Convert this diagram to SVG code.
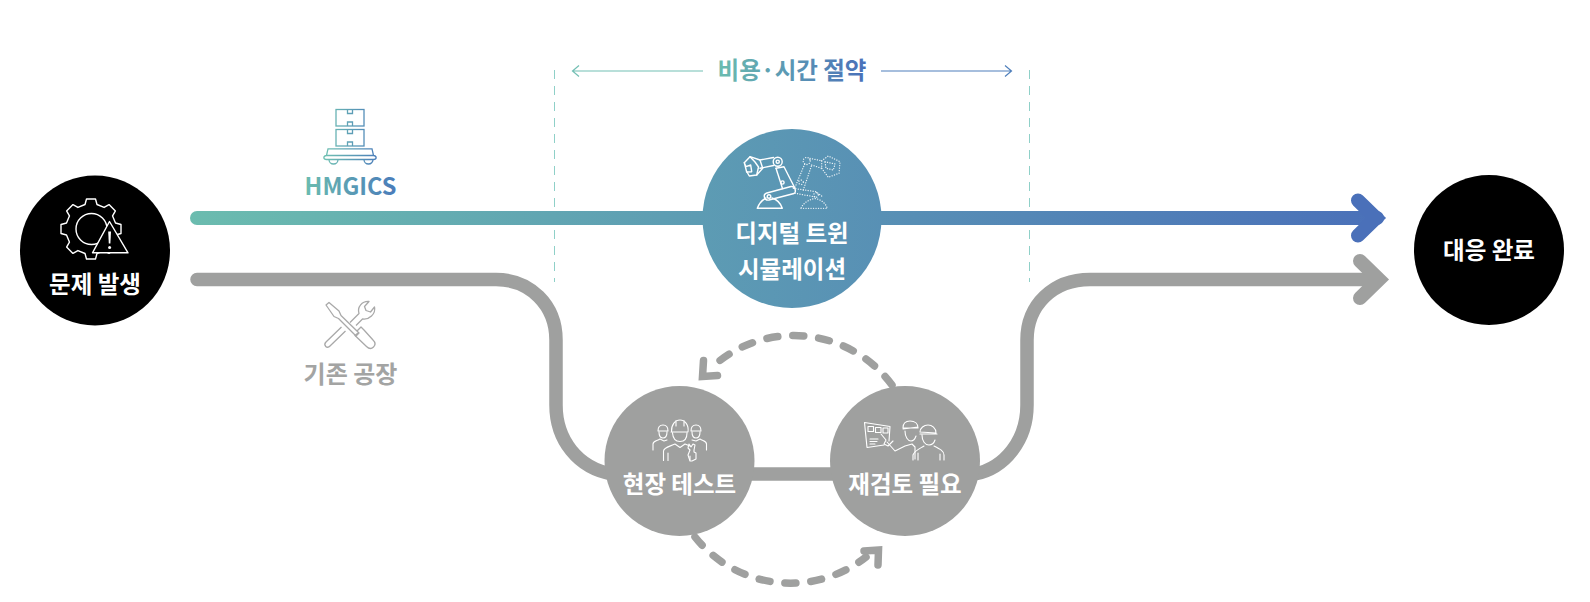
<svg xmlns="http://www.w3.org/2000/svg" width="1590" height="602" viewBox="0 0 1590 602">
<style>
text{font-family:"Noto Sans CJK KR","Noto Sans",sans-serif;font-weight:700;text-anchor:middle}
.w{fill:#fff;font-size:23.500px}
.ic{fill:none;stroke:#fff;stroke-width:1.400;stroke-linejoin:round;stroke-linecap:round}
.dot{fill:none;stroke:#fff;stroke-width:1.300;stroke-dasharray:.1 2.400;stroke-linecap:round;stroke-linejoin:round;opacity:.9}
.g{fill:none;stroke:#9fa09f;stroke-width:13.500}
.d{fill:none;stroke:#9fa09f;stroke-width:7.500;stroke-linecap:round}
.vd{fill:none;stroke-width:1;stroke-dasharray:9 7}
</style>
<defs>
<linearGradient id="flow" gradientUnits="userSpaceOnUse" x1="190" y1="0" x2="1387" y2="0"><stop offset="0" stop-color="#6bbcaf"/><stop offset="1" stop-color="#4a70b9"/></linearGradient>
<linearGradient id="span" gradientUnits="userSpaceOnUse" x1="718" y1="0" x2="866" y2="0"><stop offset="0" stop-color="#6bbcaf"/><stop offset="1" stop-color="#4a70b9"/></linearGradient>
<linearGradient id="hm" gradientUnits="userSpaceOnUse" x1="305" y1="0" x2="396" y2="0"><stop offset="0" stop-color="#6bbcaf"/><stop offset="1" stop-color="#4a7cba"/></linearGradient>
<linearGradient id="hmi" gradientUnits="userSpaceOnUse" x1="325" y1="0" x2="378" y2="0"><stop offset="0" stop-color="#6fc0b2"/><stop offset="1" stop-color="#4a7cba"/></linearGradient>
</defs>

<g id="connectors">
<path class="vd" stroke="#8fd0c8" d="M554.500,70V282"/>
<path class="vd" stroke="#8fd0c8" d="M1029.500,70V282"/>
<path d="M197,218H1377" fill="none" stroke="url(#flow)" stroke-width="14" stroke-linecap="round"/>
<path d="M1358,200.500L1376,218L1358,235.500" fill="none" stroke="#4a70b9" stroke-width="14" stroke-linecap="round" stroke-miterlimit="10"/>
<path class="g" stroke-linecap="round" d="M197,279.500H496C530,279.500 556,305 556,340V405C556,440 578,468 612,474"/>
<path class="g" d="M750,474H835"/>
<path class="g" stroke-linecap="round" d="M975,474C1005,468 1027,440 1027,405V340C1027,305 1053,279.500 1090,279.500H1378"/>
<path d="M1360,261L1379,279.500L1360,298" fill="none" stroke="#9fa09f" stroke-width="14" stroke-linecap="round" stroke-miterlimit="10"/>
<path class="d" stroke-dasharray="11 15" d="M892,385A122,122 0 0 0 718,362"/>
<path class="d" stroke-miterlimit="10" d="M703.500,360.500L702.500,376.500L717.500,375.500"/>
<path class="d" stroke-dasharray="11 15" d="M695,537A122,122 0 0 0 866,557"/>
<path class="d" stroke-miterlimit="10" d="M864,551L878.500,550L878,565"/>
<path d="M703,71H573M579,65.500L572.500,71L579,76.500" fill="none" stroke="#73bfb4" stroke-width="1.200"/>
<path d="M881,71H1011M1005,65.500L1011.500,71L1005,76.500" fill="none" stroke="#4f7fbb" stroke-width="1.200"/>
</g>

<g id="span-label"><text x="792" y="79" font-size="23.500" fill="url(#span)">비용·시간 절약</text></g>

<g id="node-problem">
<circle cx="95" cy="250.500" r="75" fill="#000"/>
<polygon class="ic" transform="translate(91,229)" points="24.500,-6 30,-4.500 30,4.500 24.500,6 21.570,13.080 24.400,18.030 18.030,24.400 13.080,21.570 6,24.500 4.500,30 -4.500,30 -6,24.500 -13.080,21.570 -18.030,24.400 -24.400,18.030 -21.570,13.080 -24.500,6 -30,4.500 -30,-4.500 -24.500,-6 -21.570,-13.080 -24.400,-18.030 -18.030,-24.400 -13.080,-21.570 -6,-24.500 -4.500,-30 4.500,-30 6,-24.500 13.080,-21.570 18.030,-24.400 24.400,-18.030 21.570,-13.080"/>
<circle class="ic" cx="91.500" cy="229" r="15.500"/>
<path class="ic" style="fill:#000" d="M109.500,221.500L128,252.800H92.500Z"/>
<path d="M108.200,231.500h2.800l-.6,12h-1.600z" fill="#fff"/><circle cx="109.600" cy="247.500" r="1.500" fill="#fff"/>
<text class="w" x="95" y="293">문제 발생</text>
</g>

<g id="label-hmgics">
<g fill="none" stroke="url(#hmi)" stroke-width="1.300">
<rect x="336" y="109.500" width="28" height="16.500"/><rect x="336" y="129.500" width="28" height="16.500"/>
<path d="M347.500,109.500v4h5v-4M347.500,126v-4h5v4M347.500,129.500v4h5v-4M347.500,146v-4h5v4"/>
<path d="M328,148.800H372L373.500,155.500C377,156 377,159.500 373.500,159.500H326.500C323,159.500 323,156 326.500,155.500ZM352,155.500H367M327,155.500H373"/>
<path d="M329,159.500a4.500,4.500 0 0 0 9,0M364,159.500a4.500,4.500 0 0 0 9,0"/>
</g>
<text x="350.500" y="195" font-size="23.500" fill="url(#hm)">HMGICS</text>
</g>

<g id="label-existing">
<g fill="none" stroke="#a9a9a9" stroke-width="1.300" stroke-linejoin="round">
<path d="M326,305L329,302.500L339,311L341,315.500L359,333L356,336L338.500,318.500L334,316.500Z"/>
<path d="M357,331L361,327L364,330L373,340C375.500,342.500 375.500,345 373.500,347C371.500,349 369,349 366.500,346.500L355,335.500L358,333"/>
<path d="M350,322.500L359,313.500C357,307 362,301 369,301.500L364.500,306.500L366,310.500L370.500,312L374.500,307C376,314 369,320 362.500,319L356,325.500"/>
<path d="M345.500,331L330,346C327,349.500 323,345 326,342L341.500,327"/>
</g>
<text x="350.500" y="383" font-size="24" fill="#a3a4a3">기존 공장</text>
</g>

<g id="node-twin">
<circle cx="792" cy="218.500" r="89.500" fill="url(#flow)"/>
<path class="ic" d="M757.300,208.300H782.300C780.500,203 777,199.500 772,198M757.300,208.300C759,204 762,200 766,198"/>
<path class="ic" d="M766,193.300L791,186.500C795.500,186 796.500,192 794,193.500L769,200C764,201 763,194.500 766,193.300Z"/>
<circle class="ic" cx="769" cy="196.500" r="1.800"/><circle class="ic" cx="782.500" cy="182.500" r="1.600"/>
<path class="ic" d="M776,168.300L784,166.700L794.300,187M782,189"/>
<path class="ic" d="M776,168.300L782.500,188.500"/>
<path class="ic" d="M760,160L773.500,157.500M760,168.300L773.500,165.500"/>
<circle class="ic" cx="777.700" cy="161.700" r="4.500"/><circle class="ic" cx="777.700" cy="161.700" r="1.600"/>
<path class="ic" d="M744.300,162.700L750,156.700L760,160L762.700,168.300L756.700,175L749.300,176L747,172"/>
<path class="ic" d="M750,156.700L755,162L758.500,167L756.700,175M744.300,162.700L746,166.700L750.700,165L751.700,171.700L746.700,172Z"/>
<path class="dot" d="M801,208.300H827.300C825.500,203 821,199.500 815,198.500C809,199.500 803,203 801,208.300Z"/>
<path class="dot" d="M793.300,188.300L816,191.700L823.300,197.300M795,193.300L816,197"/>
<path class="dot" d="M795,187.300L805,163.300M803.300,190L811.700,165"/>
<path class="dot" d="M810,158.300L821.700,160.700M811.700,165L821.700,168.300"/>
<path class="dot" d="M821.700,160.700L828.300,156L840,161.700L839,173.300L828.300,177.300L821.700,168.300ZM825,161.700L835,164L833.300,170L826,168.300Z"/>
<circle class="dot" cx="806.700" cy="161" r="3.500"/><circle class="dot" cx="801" cy="182.300" r="2.300"/><circle class="dot" cx="816" cy="195" r="2.300"/>
<text class="w" x="792" y="241.500">디지털 트윈</text>
<text class="w" x="792" y="278">시뮬레이션</text>
</g>

<g id="node-field-test">
<circle cx="679.500" cy="461" r="75" fill="#9fa09f"/>
<g class="ic" style="stroke-width:1.100">
<path d="M671.500,432C671,425 675,420 680,420C685,420 689,425 688,432H671ZM676,420.500V426M684,420.500V426M672.500,433C673,439 676,441.500 680,441.500C684,441.500 687,439 687,433"/>
<path d="M663.500,460.500V451C664,447 670,446.500 675,444L680,447.500L685,444L690,446M668,453V460.500M690,456V460"/>
<path d="M658,431C658,427 660,425 663,425C666,425 668,427 668,431H658ZM659,432C659,436 661,438 663,438C665,438 667,436 667,432"/>
<path d="M653,450V444C653,441 657,441 660,439L664,441L667,440"/>
<path d="M691,431C691,427 693,425 696,425C699,425 701,427 701,431H691ZM692,432C692,436 694,438 696,438C698,438 700,436 700,432"/>
<path d="M692,440L696,441L700,439C703,441 706.500,441 706.500,444V450"/>
<path d="M689,444L691,447L693,444L695,445L694,450V452L696,453V459L692,461H690L688,455L690,450L688,448Z"/>
</g>
<text class="w" x="679.500" y="493">현장 테스트</text>
</g>

<g id="node-review">
<circle cx="905" cy="461" r="75" fill="#9fa09f"/>
<g class="ic" style="stroke-width:1.100">
<path d="M864.500,422.500L890,426.500L889,441M867,447.500L864.500,422.500M867,447.500L884,445"/>
<rect x="868" y="426.500" width="5.500" height="5"/><rect x="875.500" y="427.500" width="5.500" height="5"/><rect x="883" y="428" width="5" height="5"/>
<path d="M870,439H878M870,441.500H877M870,444H875M881,434L886,440L884,444L888,446L893,441"/>
<path d="M887,442L895,451L905,446L912,444L915,447V459M903,428C903,423 906,421 910,421C915,421 918,424 918,428ZM903,429L918,427M905,431C905,437 908,441 911,441C913,441 915,439 916,436"/>
<path d="M920,432C920,428 924,425 928,425C932,425 936,428 936,433ZM920,434H937M922,435C922,441 925,445 929,445C932,445 934,443 935,440M913,460V455C914,451 919,449 924,446M934,446C940,449 944,451 944,455V460M918,453V460M940,454V460"/>
</g>
<text class="w" x="905" y="493">재검토 필요</text>
</g>

<g id="node-done">
<circle cx="1489" cy="250" r="75" fill="#000"/>
<text class="w" x="1489" y="259">대응 완료</text>
</g>
</svg>
